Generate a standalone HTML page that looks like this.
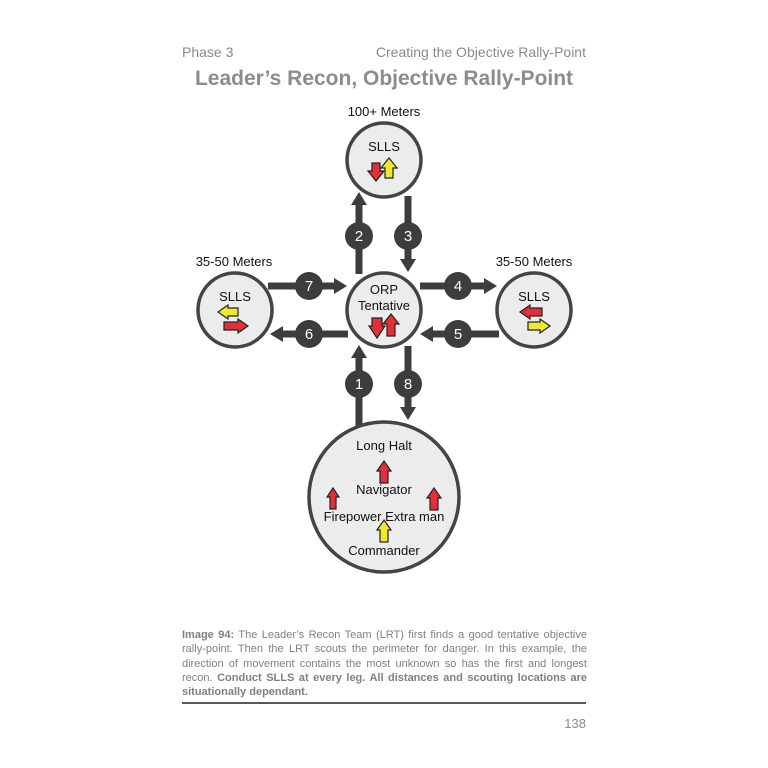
<!DOCTYPE html>
<html><head><meta charset="utf-8"><style>
body{margin:0;background:#fff;width:768px;height:768px;position:relative;font-family:"Liberation Sans",sans-serif;overflow:hidden}
.hdr{position:absolute;top:44px;font-size:14px;color:#8a8a8a}
.cap{position:absolute;left:182px;top:628px;width:405px;font-size:11px;line-height:14.3px;color:#808080;text-align:justify}
</style></head><body>
<div class="hdr" style="left:182px">Phase 3</div>
<div class="hdr" style="right:182px">Creating the Objective Rally-Point</div>
<div style="position:absolute;top:67px;width:768px;text-align:center;font-size:21px;font-weight:bold;color:#8c8c8c">Leader’s Recon, Objective Rally-Point</div>
<svg width="768" height="768" style="position:absolute;left:0;top:0" font-family="Liberation Sans, sans-serif">
<g stroke="#3d3d3d" stroke-width="7" fill="none">
<path d="M359,430 V356"/>
<path d="M359,274 V203"/>
<path d="M408,196 V261"/>
<path d="M408,346 V409"/>
<path d="M268,286 H336"/>
<path d="M420,286 H486"/>
<path d="M499,334 H431"/>
<path d="M348,334 H281"/>
</g>
<g fill="#3d3d3d">
<path d="M351,358 H367 L359,345Z"/>
<path d="M351,205 H367 L359,192Z"/>
<path d="M400,259 H416 L408,272Z"/>
<path d="M400,407 H416 L408,420Z"/>
<path d="M334,278 V294 L347,286Z"/>
<path d="M484,278 V294 L497,286Z"/>
<path d="M433,326 V342 L420,334Z"/>
<path d="M283,326 V342 L270,334Z"/>
</g>
<g fill="#ececec" stroke="#444" stroke-width="3.5">
<circle cx="384" cy="160" r="37"/>
<circle cx="384" cy="310" r="37"/>
<circle cx="235" cy="310" r="37"/>
<circle cx="534" cy="310" r="37"/>
<circle cx="384" cy="497" r="75"/>
</g>
<g fill="#3d3d3d">
<circle cx="359" cy="236" r="14"/><circle cx="408" cy="236" r="14"/>
<circle cx="309" cy="286" r="14"/><circle cx="458" cy="286" r="14"/>
<circle cx="309" cy="334" r="14"/><circle cx="458" cy="334" r="14"/>
<circle cx="359" cy="384" r="14"/><circle cx="408" cy="384" r="14"/>
</g>
<g fill="#fff" font-size="15" text-anchor="middle">
<text x="359" y="241">2</text><text x="408" y="241">3</text>
<text x="309" y="291">7</text><text x="458" y="291">4</text>
<text x="309" y="339">6</text><text x="458" y="339">5</text>
<text x="359" y="389">1</text><text x="408" y="389">8</text>
</g>
<g fill="#111" font-size="13" text-anchor="middle">
<text x="384" y="116">100+ Meters</text>
<text x="234" y="266">35-50 Meters</text>
<text x="534" y="266">35-50 Meters</text>
<text x="384" y="151">SLLS</text>
<text x="235" y="301">SLLS</text>
<text x="534" y="301">SLLS</text>
<text x="384" y="294">ORP</text>
<text x="384" y="310">Tentative</text>
<text x="384" y="450">Long Halt</text>
<text x="384" y="494">Navigator</text>
<text x="384" y="521">Firepower Extra man</text>
<text x="384" y="555">Commander</text>
</g>
<g stroke="#222" stroke-width="1.2">
<path d="M372,163 h8 v8 h4 l-8,10 l-8,-10 h4z" fill="#e0303a"/>
<path d="M389,158 l8,10 h-4 v10 h-8 v-10 h-4z" fill="#f0e830"/>
<path d="M372,318 h10 v8 h3 l-8,12 l-8,-12 h3z" fill="#e0303a"/>
<path d="M391,314 l8,10 h-4 v12 h-8 v-12 h-4z" fill="#e0303a"/>
<path d="M218,312 l10,-7 v3 h10 v8 h-10 v3z" fill="#f0e830"/>
<path d="M248,326 l-10,-7 v3 h-14 v8 h14 v3z" fill="#e0303a"/>
<path d="M520,312 l10,-7 v3 h12 v8 h-12 v3z" fill="#e0303a"/>
<path d="M550,326 l-10,-7 v3 h-12 v8 h12 v3z" fill="#f0e830"/>
<path d="M384,461 l7,10 h-3 v12 h-8 v-12 h-3z" fill="#e0303a"/>
<path d="M333,488 l6,9 h-3 v12 h-6 v-12 h-3z" fill="#e0303a"/>
<path d="M434,488 l7,10 h-3 v12 h-8 v-12 h-3z" fill="#e0303a"/>
<path d="M384,520 l7,10 h-3 v12 h-8 v-12 h-3z" fill="#f0e830"/>
</g>
<line x1="182" y1="703" x2="586" y2="703" stroke="#222" stroke-width="1.5"/>
<text x="586" y="728" text-anchor="end" font-size="13" fill="#8a8a8a">138</text>
</svg>
<div class="cap"><b>Image 94:</b> The Leader’s Recon Team (LRT) first finds a good tentative objective rally-point. Then the LRT scouts the perimeter for danger. In this example, the direction of movement contains the most unknown so has the first and longest recon. <b>Conduct SLLS at every leg. All distances and scouting locations are situationally dependant.</b></div>
</body></html>
